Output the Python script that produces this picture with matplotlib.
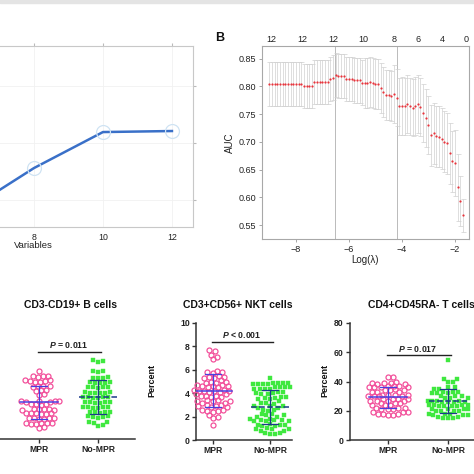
import numpy as np
import matplotlib
matplotlib.use('Agg')
from matplotlib import pyplot as plt
from matplotlib.patches import Rectangle

plt.rcParams['font.family'] = ['Liberation Sans', 'DejaVu Sans']
plt.rcParams['mathtext.fontset'] = 'custom'
plt.rcParams['mathtext.it'] = 'Liberation Sans:italic:bold'

W = H = 474

# ---- panel A: AUC vs number of variables (cropped on the left)
a_vars = [6, 8, 10, 12]
a_auc = [0.6895, 0.728, 0.7596, 0.7605]

# ---- panel B: lasso cross-validation curve
b_loglam = [-9.0, -8.9, -8.8, -8.7, -8.6, -8.5, -8.4, -8.3, -8.2, -8.1,
            -8.0, -7.9, -7.8, -7.7, -7.6, -7.5, -7.4, -7.3, -7.2, -7.1,
            -7.0, -6.9, -6.8, -6.7, -6.6, -6.5, -6.4, -6.3, -6.2, -6.1,
            -6.0, -5.9, -5.8, -5.7, -5.6, -5.5, -5.4, -5.3, -5.2, -5.1,
            -5.0, -4.9, -4.8, -4.7, -4.6, -4.5, -4.4, -4.3, -4.2, -4.1,
            -4.0, -3.9, -3.8, -3.7, -3.6, -3.5, -3.4, -3.3, -3.2, -3.1,
            -3.0, -2.9, -2.8, -2.7, -2.6, -2.5, -2.4, -2.3, -2.2, -2.1,
            -2.0, -1.9, -1.8, -1.7]
b_auc = [0.804, 0.804, 0.804, 0.804, 0.804, 0.804, 0.804, 0.804, 0.804, 0.804,
         0.804, 0.804, 0.804, 0.8005, 0.8005, 0.8005, 0.8005, 0.808, 0.808, 0.808,
         0.808, 0.808, 0.808, 0.814, 0.816, 0.821, 0.819, 0.819, 0.819, 0.813,
         0.813, 0.813, 0.811, 0.811, 0.811, 0.807, 0.806, 0.806, 0.8085, 0.806,
         0.804, 0.804, 0.798, 0.790, 0.785, 0.785, 0.7825, 0.787, 0.780, 0.764,
         0.765, 0.764, 0.768, 0.764, 0.762, 0.765, 0.769, 0.763, 0.752, 0.743,
         0.730, 0.712, 0.716, 0.7105, 0.709, 0.706, 0.700, 0.698, 0.680, 0.665,
         0.662, 0.618, 0.594, 0.568]
b_sd = [0.040, 0.040, 0.040, 0.040, 0.040, 0.040, 0.040, 0.040, 0.040, 0.040,
        0.040, 0.040, 0.040, 0.040, 0.040, 0.040, 0.040, 0.040, 0.040, 0.040,
        0.040, 0.040, 0.040, 0.040, 0.040, 0.040, 0.040, 0.040, 0.040, 0.040,
        0.040, 0.040, 0.040, 0.040, 0.040, 0.040, 0.045, 0.045, 0.045, 0.045,
        0.045, 0.045, 0.045, 0.045, 0.045, 0.045, 0.045, 0.052, 0.052, 0.052,
        0.052, 0.052, 0.052, 0.052, 0.052, 0.052, 0.052, 0.052, 0.052, 0.052,
        0.052, 0.055, 0.055, 0.055, 0.055, 0.055, 0.055, 0.055, 0.055, 0.055,
        0.060, 0.060, 0.045, 0.030]
b_vlines = [-6.53, -4.19]
b_top_pos = [-8.91, -7.74, -6.57, -5.47, -4.30, -3.40, -2.49, -1.58]
b_top_lbl = ['12', '12', '12', '10', '8', '6', '4', '0']

# ---- bottom dot plots
groups = ['MPR', 'No-MPR']
bcell_mpr = [11.7, 10.8, 10.8, 10.9, 10.7, 10.0, 10.1, 9.9, 10.0, 10.1, 9.9, 9.1, 9.2, 9.0,
             9.1, 8.4, 8.3, 8.5, 7.7, 7.6, 6.6, 6.5, 6.4, 6.6, 6.5, 6.4, 6.0, 6.1, 5.9, 6.0,
             5.1, 5.2, 5.0, 5.1, 5.2, 5.0, 4.4, 4.5, 4.3, 4.4, 4.5, 4.3, 3.6, 3.7, 3.5, 3.6,
             3.7, 3.5, 2.7, 2.8, 2.6, 2.7, 2.8, 2.6, 1.9, 2.0]
bcell_nompr = [13.6, 13.4, 13.3, 11.8, 11.7, 11.6, 10.7, 10.6, 10.5, 10.6, 9.8, 9.7, 9.6,
               9.7, 9.8, 8.9, 9.0, 8.8, 8.9, 9.0, 8.1, 8.0, 7.9, 8.0, 8.1, 7.9, 7.2, 7.3, 7.1,
               7.2, 7.3, 7.1, 6.3, 6.4, 6.2, 6.3, 6.4, 6.2, 5.5, 5.6, 5.4, 5.5, 5.6, 5.4, 4.6,
               4.7, 4.5, 4.6, 4.7, 3.8, 3.9, 3.7, 3.8, 3.9, 2.9, 3.0, 2.8, 2.4, 2.3]
nkt_mpr = [7.7, 7.6, 7.3, 7.1, 6.9, 5.9, 5.8, 5.8, 5.7, 5.5, 5.4, 5.4, 5.3, 5.3, 5.0, 5.1,
           4.9, 5.0, 4.9, 4.6, 4.7, 4.5, 4.6, 4.7, 4.5, 4.6, 4.2, 4.3, 4.1, 4.2, 4.3, 4.1,
           4.2, 4.2, 3.8, 3.9, 3.7, 3.8, 3.9, 3.7, 3.8, 3.3, 3.4, 3.2, 3.3, 3.4, 3.2, 3.3,
           2.9, 3.0, 2.8, 2.9, 3.0, 2.8, 2.5, 2.6, 2.4, 2.5, 2.6, 2.1, 2.0, 1.9, 1.3]
nkt_nompr = [5.3, 4.9, 4.9, 4.8, 4.8, 4.9, 4.8, 4.9, 4.8, 4.5, 4.4, 4.5, 4.4, 4.5, 4.4, 4.5,
             4.4, 4.0, 4.1, 3.9, 4.0, 4.1, 3.9, 3.6, 3.7, 3.5, 3.6, 3.7, 3.5, 3.2, 3.3, 3.1,
             3.2, 2.9, 2.9, 2.9, 2.6, 2.7, 2.5, 2.6, 2.7, 2.1, 2.2, 2.0, 2.1, 2.2, 2.0, 1.7,
             1.8, 1.6, 1.7, 1.8, 1.6, 1.7, 1.6, 1.3, 1.2, 1.4, 1.3, 1.2, 1.3, 0.9, 0.8, 1.0,
             0.9, 0.8, 0.9, 0.6, 0.5, 0.6, 0.5]
cd4_mpr = [43, 43, 39, 39, 40, 38, 39, 38, 37, 36, 37, 36, 35, 36, 37, 36, 34, 33, 34, 33,
           34, 33, 31, 30, 31, 30, 31, 30, 31, 30, 28, 27, 28, 27, 28, 27, 28, 27, 25, 24,
           25, 24, 25, 24, 22, 21, 22, 21, 22, 21, 19, 18, 19, 18, 18, 19, 17, 17]
cd4_nompr = [55, 42, 42, 40, 40, 36, 35, 36, 35, 32, 33, 32, 33, 32, 33, 30, 29, 30, 29, 30,
             29, 27, 26, 27, 26, 27, 26, 27, 26, 24, 23, 24, 23, 24, 23, 24, 23, 21, 20, 21,
             20, 21, 20, 21, 20, 18, 17, 18, 17, 18, 17, 16, 15, 16, 15, 15]

PINK = '#f2509b'
GREEN = '#3fe83f'
BLUE_MPR = '#4b3fe0'
BLUE_NO = '#1b3a8a'


def px_axes(fig, left, top, right, bottom):
    return fig.add_axes([left / W, 1 - bottom / H, (right - left) / W, (bottom - top) / H])


def swarm_x(ax, values, center, diam, maxw):
    # simple beeswarm in pixel space; points beyond maxw are allowed to overlap
    tr = ax.transData
    ys = [tr.transform((center, v))[1] for v in values]
    x0 = tr.transform((center, 0))[0]
    placed = []
    offs = np.zeros(len(values))
    for i in np.argsort(ys):
        y = ys[i]
        cands = [0.0]
        for px_, py_ in placed:
            dy = abs(y - py_)
            if dy < diam:
                dx = np.sqrt(diam ** 2 - dy ** 2)
                cands += [px_ + dx, px_ - dx]
        cands = [c for c in cands if abs(c) <= maxw]
        cands.sort(key=abs)
        best = None
        for c in cands:
            if all((c - px_) ** 2 + (y - py_) ** 2 >= diam ** 2 - 1e-6 for px_, py_ in placed):
                best = c
                break
        if best is None:
            # least crowded spot inside the allowed width
            grid = np.linspace(-maxw, maxw, 15)
            score = [min([(g - px_) ** 2 + (y - py_) ** 2 for px_, py_ in placed] + [1e9])
                     for g in grid]
            best = grid[int(np.argmax(score))]
        placed.append((best, y))
        offs[i] = best
    inv = tr.inverted()
    return [inv.transform((x0 + o, 0))[0] for o in offs]


def dot_panel(ax, mpr, nompr, ppx_x, ppx_y, ptxt, py):
    # ppx_x, ppx_y: pixels per data unit along x and y
    xm = swarm_x(ax, mpr, 0, 5.0, 20)
    xn = swarm_x(ax, nompr, 1, 5.0, 20)
    ax.plot(xm, mpr, 'o', ms=3.6, mfc='none', mec=PINK, mew=0.9, zorder=3, clip_on=False)
    ax.plot(xn, nompr, 's', ms=3.4, mfc=GREEN, mec=GREEN, mew=0.3, zorder=3, clip_on=False)
    hw = 19 / ppx_x
    cw = 8 / ppx_x
    for c, vals, col, ls in [(0, mpr, BLUE_MPR, '-'), (1, nompr, BLUE_NO, '--')]:
        m = np.mean(vals)
        s = np.std(vals, ddof=1)
        ax.plot([c - hw, c + hw], [m, m], color=col, lw=1.1, ls=ls, zorder=4)
        ax.plot([c, c], [m - s, m + s], color=col, lw=0.9, zorder=4)
        ax.plot([c - cw, c + cw], [m + s, m + s], color=col, lw=0.9, zorder=4)
        ax.plot([c - cw, c + cw], [m - s, m - s], color=col, lw=0.9, zorder=4)
    ax.plot([-0.02, 1.05], [py, py], color='#222222', lw=1.0, zorder=4, clip_on=False)
    ax.text(0.5, py + 1.5 / ppx_y, r'$P$' + ptxt, ha='center', va='bottom',
            fontsize=6.3, fontweight='bold', color='#222222')
    ax.set_xticks([0, 1], groups)
    for sp in ['top', 'right']:
        ax.spines[sp].set_visible(False)
    for sp in ['left', 'bottom']:
        ax.spines[sp].set_color('#333333')
        ax.spines[sp].set_linewidth(1.1)
    ax.tick_params(length=3, width=1, color='#333333', pad=1.5, labelsize=6.2)
    for lab in ax.get_xticklabels() + ax.get_yticklabels():
        lab.set_fontweight('bold')
        lab.set_color('#222222')


fig = plt.figure(figsize=(4.74, 4.74), dpi=100)
fig.patches.append(Rectangle((0, 1 - 3 / H), 1, 3 / H, transform=fig.transFigure,
                             color='#e4e4e4', zorder=0))

# ---- panel A
axA = px_axes(fig, -127, 46, 193, 227)
axA.plot(a_vars, a_auc, color='#3a70c8', lw=1.8, zorder=3)
axA.plot(a_vars, a_auc, 'o', ms=10, mfc='none', mec='#cfe3f3', mew=0.9, zorder=4)
axA.set_xlim(3.335, 12.61)
axA.set_ylim(0.6763, 0.8351)
axA.set_xticks([8, 10, 12])
axA.set_yticks([0.70, 0.75, 0.80])
axA.grid(color='#f1f1f1', lw=0.6)
axA.set_axisbelow(True)
for sp in axA.spines.values():
    sp.set_color('#c8c8c8')
    sp.set_linewidth(0.8)
axA.tick_params(axis='x', bottom=False, top=True, direction='out', length=2,
                color='#bbbbbb', labelsize=6.3, labelcolor='#222222', pad=2)
axA.tick_params(axis='y', left=False, right=True, labelleft=False, direction='out',
                length=2, color='#bbbbbb')
axA.set_xlabel('Variables', fontsize=6.8, color='#222222')
axA.xaxis.set_label_coords((33 + 127) / 320, -0.075)

# ---- panel B
axB = px_axes(fig, 262, 46, 469, 239)
axB.errorbar(b_loglam, b_auc, yerr=b_sd, fmt='o', ms=1.6, mfc='#e8343c', mec='none',
             ecolor='#d0d0d0', elinewidth=0.5, capsize=1.8, capthick=0.5, zorder=3)
for v in b_vlines:
    axB.axvline(v, color='#b0b0b0', lw=0.6, zorder=2)
axB.set_xlim(-9.28, -1.47)
axB.set_ylim(0.525, 0.873)
axB.set_xticks([-8, -6, -4, -2])
axB.set_yticks([0.55, 0.60, 0.65, 0.70, 0.75, 0.80, 0.85])
axB.set_yticklabels(['0.55', '0.60', '0.65', '0.70', '0.75', '0.80', '0.85'])
for sp in axB.spines.values():
    sp.set_color('#a8a8a8')
    sp.set_linewidth(0.8)
axB.tick_params(length=2.5, width=0.6, color='#999999', labelsize=6.5,
                labelcolor='#222222', pad=1.5)
axB.set_xlabel('Log(λ)', fontsize=7, color='#222222', labelpad=1)
axB.set_ylabel('AUC', fontsize=7, color='#222222', labelpad=3)
axT = axB.twiny()
axT.set_xlim(axB.get_xlim())
axT.set_xticks(b_top_pos, b_top_lbl)
axT.tick_params(length=0, labelsize=6.5, labelcolor='#222222', pad=1.5)
for sp in axT.spines.values():
    sp.set_visible(False)
fig.text(220 / W, 1 - 38 / H, 'B', fontsize=9, fontweight='bold', ha='center',
         va='center', color='#111111')

# ---- bottom left: B cells (y axis out of frame)
axL = px_axes(fig, -20, 323, 135, 439)
axL.set_xlim(-1.0, 1.627)
axL.set_ylim(0, 20)
dot_panel(axL, bcell_mpr, bcell_nompr, 59, 5.8, ' = 0.011', 15.0)
axL.set_yticks([])

# ---- bottom middle: NKT cells
axM = px_axes(fig, 196, 323, 292, 440)
axM.set_xlim(-0.298, 1.386)
axM.set_ylim(0, 10)
axM.set_yticks([0, 2, 4, 6, 8, 10])
dot_panel(axM, nkt_mpr, nkt_nompr, 57, 11.7, ' < 0.001', 8.4)

# ---- bottom right: CD4+CD45RA- T cells
axR = px_axes(fig, 350, 323, 500, 440)
axR.set_xlim(-0.633, 1.867)
axR.set_ylim(0, 80)
axR.set_yticks([0, 20, 40, 60, 80])
dot_panel(axR, cd4_mpr, cd4_nompr, 60, 1.4625, ' = 0.017', 58.1)

for x, txt in [(70, 'CD3-CD19+ B cells'), (238, 'CD3+CD56+ NKT cells'),
               (421, 'CD4+CD45RA- T cells')]:
    fig.text(x / W, 1 - 305 / H, txt, fontsize=7.5, fontweight='bold', ha='center',
             va='center', color='#111111')
for x, y in [(152, 380), (325, 380)]:
    fig.text(x / W, 1 - y / H, 'Percent', fontsize=6.5, fontweight='bold', rotation=90,
             ha='center', va='center', color='#111111')

fig.savefig('out.png', dpi=100)
